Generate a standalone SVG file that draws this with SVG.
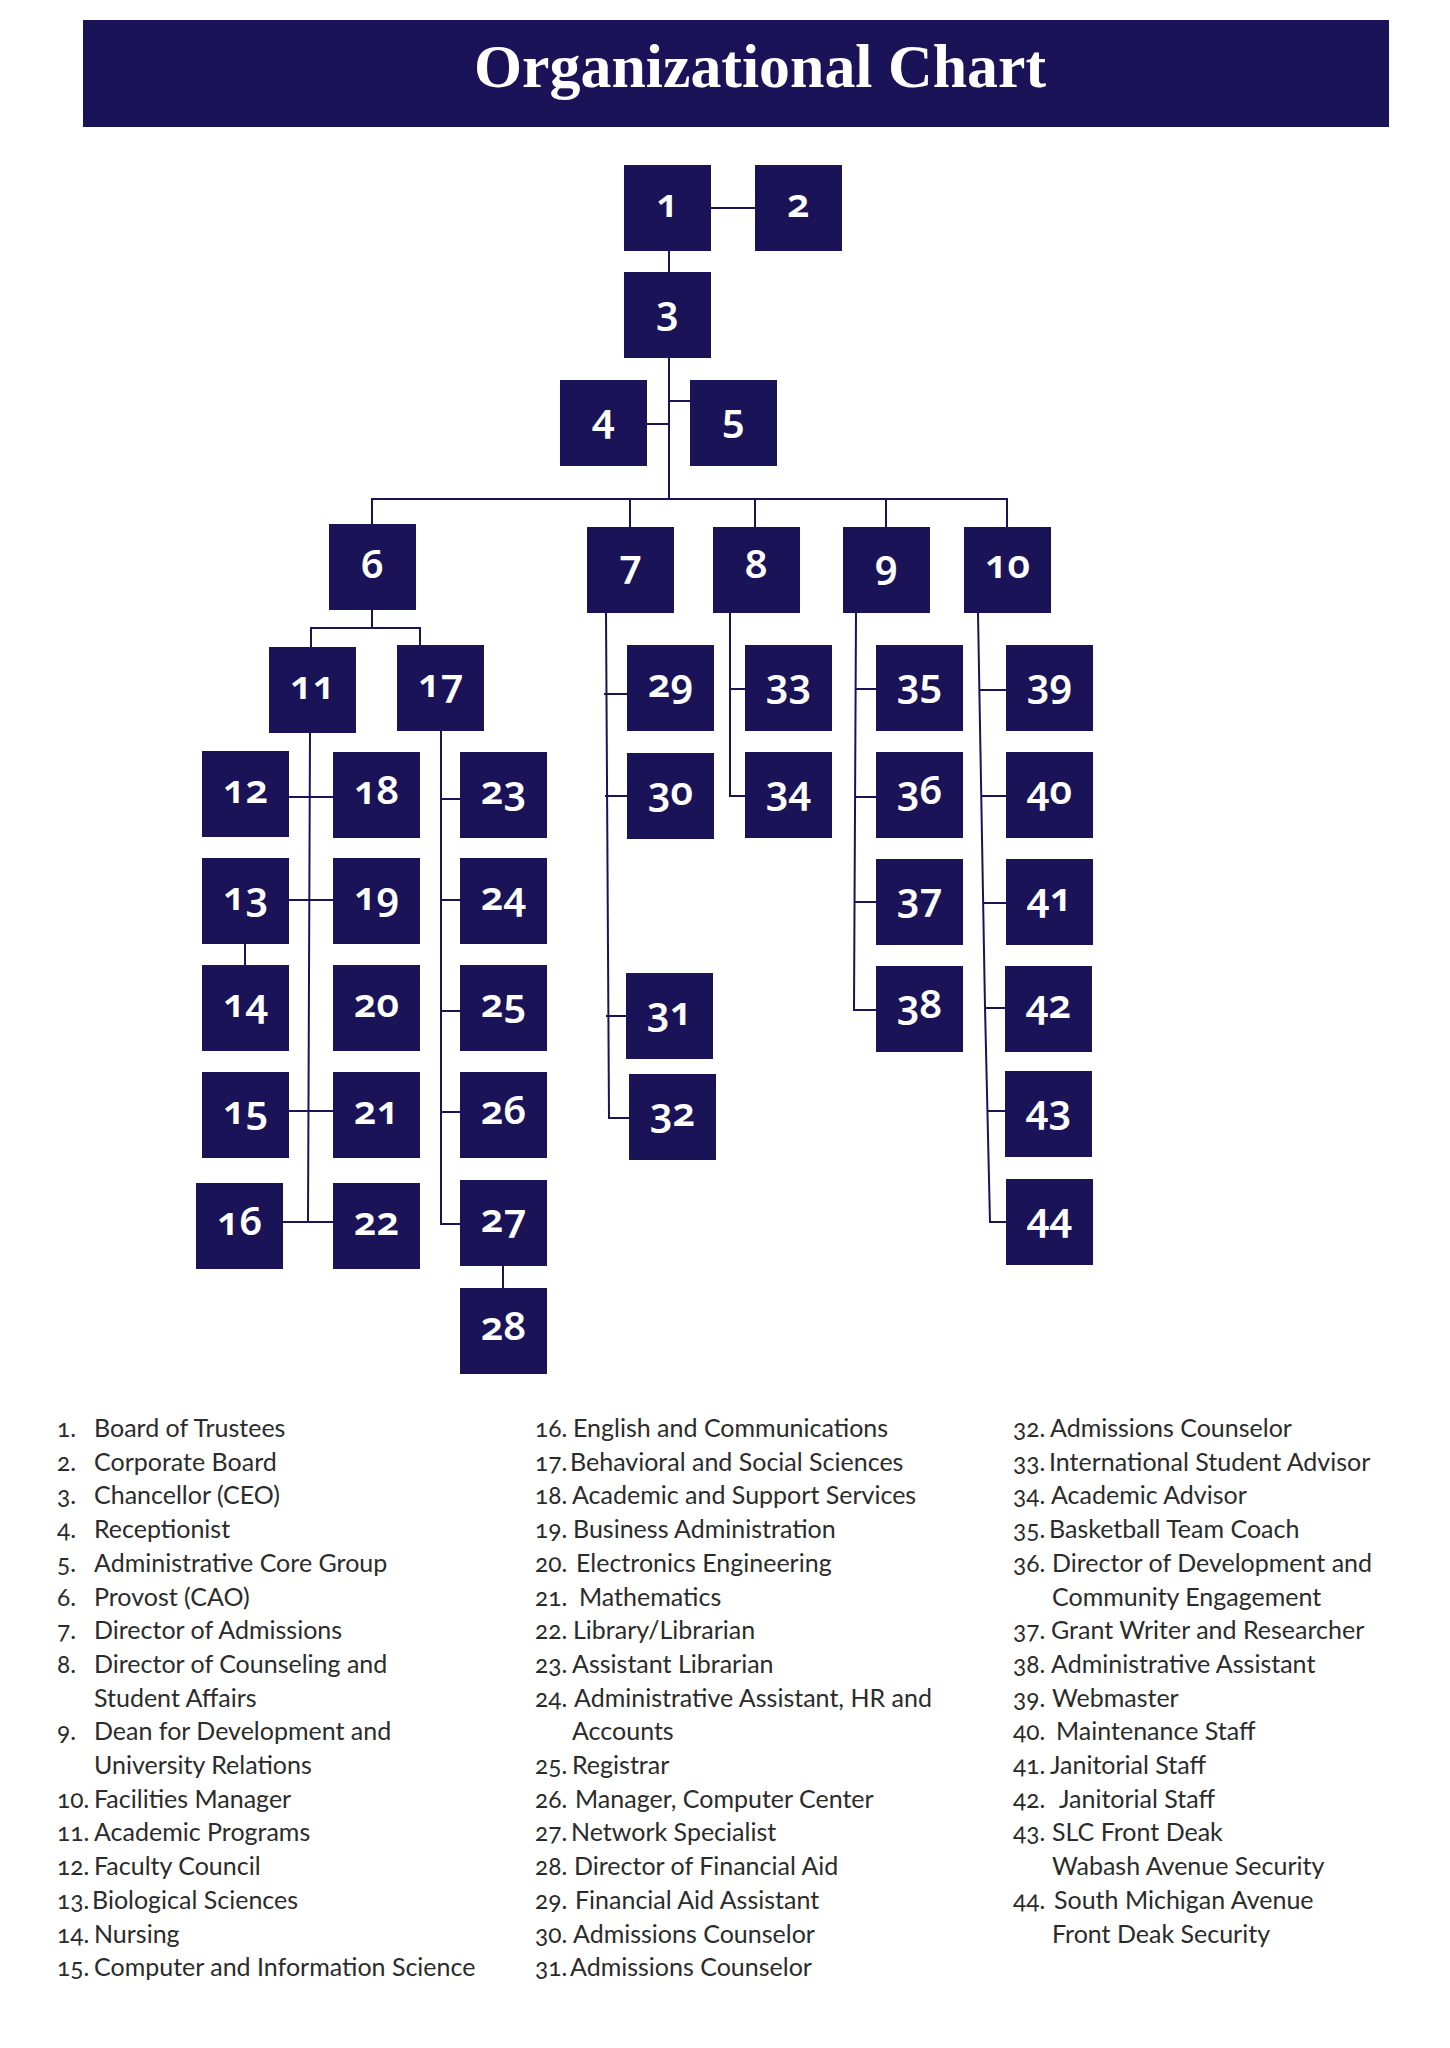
<svg xmlns="http://www.w3.org/2000/svg" width="1450" height="2048" viewBox="0 0 1450 2048">
<style>
.bx{fill:#1b1358;}
.num{font-family:"Noto Sans",Lato,"Open Sans",sans-serif;font-weight:600;font-size:40px;fill:#ffffff;text-anchor:middle;font-variant-numeric:oldstyle-nums;font-feature-settings:"onum" 1;}
.ln{fill:none;stroke:#1b1358;stroke-width:2;}
.lg{font-family:Lato,"Open Sans","Noto Sans",sans-serif;font-size:25px;fill:#2b2b2b;font-variant-numeric:oldstyle-nums;font-feature-settings:"onum" 1;}
.ln2{font-family:Lato,"Open Sans","Noto Sans",sans-serif;font-size:24.5px;fill:#2b2b2b;font-variant-numeric:oldstyle-nums;font-feature-settings:"onum" 1;}
.title{font-family:"Liberation Serif","DejaVu Serif",serif;font-weight:bold;font-size:62px;fill:#ffffff;}
</style>
<rect width="1450" height="2048" fill="#ffffff"/>
<g id="title">
<rect x="83" y="20" width="1306" height="107" class="bx"/>
<text x="474" y="87" class="title" textLength="572" lengthAdjust="spacingAndGlyphs">Organizational Chart</text>
</g>
<g id="connectors">
<path class="ln" d="M711,208 H755"/>
<path class="ln" d="M669,251 V499"/>
<path class="ln" d="M647,424 H669 M669,401 H690"/>
<path class="ln" d="M372,527 V499 H1007 V527 M630,499 V527 M755,499 V527 M886,499 V527"/>
<path class="ln" d="M372,610 V628 M311,647 V628 H420 V645"/>
<path class="ln" d="M310,733 L308,1222 M289,797 H333 M289,900 H333 M289,1111 H333 M283,1222 H333 M245,944 V965"/>
<path class="ln" d="M441,731 V1224 H460 M441,799 H460 M441,900 H460 M441,1011 H460 M441,1112 H460 M503,1266 V1288"/>
<path class="ln" d="M606,613 L609,1118 H629 M604,694 H627 M605,796 H627 M606,1016 H626"/>
<path class="ln" d="M730,613 V796 H745 M730,689 H745"/>
<path class="ln" d="M856,613 L854,1010 H876 M855,689 H876 M855,797 H876 M854,902 H876"/>
<path class="ln" d="M978,613 L985,1007 L990,1222 H1006 M980,690 H1006 M982,796 H1006 M983,903 H1006 M985,1008 H1005 M988,1111 H1005"/>
</g>
<g id="n1"><rect class="bx" x="624" y="165" width="87" height="86"/><text class="num" x="667.5" y="217">1</text></g>
<g id="n2"><rect class="bx" x="755" y="165" width="87" height="86"/><text class="num" x="798.5" y="217">2</text></g>
<g id="n3"><rect class="bx" x="624" y="272" width="87" height="86"/><text class="num" x="667.5" y="324">3</text></g>
<g id="n4"><rect class="bx" x="560" y="380" width="87" height="86"/><text class="num" x="603.5" y="432">4</text></g>
<g id="n5"><rect class="bx" x="690" y="380" width="87" height="86"/><text class="num" x="733.5" y="432">5</text></g>
<g id="n6"><rect class="bx" x="329" y="524" width="87" height="86"/><text class="num" x="372.5" y="578">6</text></g>
<g id="n7"><rect class="bx" x="587" y="527" width="87" height="86"/><text class="num" x="630.5" y="578">7</text></g>
<g id="n8"><rect class="bx" x="713" y="527" width="87" height="86"/><text class="num" x="756.5" y="578">8</text></g>
<g id="n9"><rect class="bx" x="843" y="527" width="87" height="86"/><text class="num" x="886.5" y="578">9</text></g>
<g id="n10"><rect class="bx" x="964" y="527" width="87" height="86"/><text class="num" x="1007.5" y="578">10</text></g>
<g id="n11"><rect class="bx" x="269" y="647" width="87" height="86"/><text class="num" x="312.5" y="699">11</text></g>
<g id="n17"><rect class="bx" x="397" y="645" width="87" height="86"/><text class="num" x="440.5" y="697">17</text></g>
<g id="n12"><rect class="bx" x="202" y="751" width="87" height="86"/><text class="num" x="245.5" y="803">12</text></g>
<g id="n13"><rect class="bx" x="202" y="858" width="87" height="86"/><text class="num" x="245.5" y="910">13</text></g>
<g id="n14"><rect class="bx" x="202" y="965" width="87" height="86"/><text class="num" x="245.5" y="1017">14</text></g>
<g id="n15"><rect class="bx" x="202" y="1072" width="87" height="86"/><text class="num" x="245.5" y="1124">15</text></g>
<g id="n16"><rect class="bx" x="196" y="1183" width="87" height="86"/><text class="num" x="239.5" y="1235">16</text></g>
<g id="n18"><rect class="bx" x="333" y="752" width="87" height="86"/><text class="num" x="376.5" y="804">18</text></g>
<g id="n19"><rect class="bx" x="333" y="858" width="87" height="86"/><text class="num" x="376.5" y="910">19</text></g>
<g id="n20"><rect class="bx" x="333" y="965" width="87" height="86"/><text class="num" x="376.5" y="1017">20</text></g>
<g id="n21"><rect class="bx" x="333" y="1072" width="87" height="86"/><text class="num" x="376.5" y="1124">21</text></g>
<g id="n22"><rect class="bx" x="333" y="1183" width="87" height="86"/><text class="num" x="376.5" y="1235">22</text></g>
<g id="n23"><rect class="bx" x="460" y="752" width="87" height="86"/><text class="num" x="503.5" y="804">23</text></g>
<g id="n24"><rect class="bx" x="460" y="858" width="87" height="86"/><text class="num" x="503.5" y="910">24</text></g>
<g id="n25"><rect class="bx" x="460" y="965" width="87" height="86"/><text class="num" x="503.5" y="1017">25</text></g>
<g id="n26"><rect class="bx" x="460" y="1072" width="87" height="86"/><text class="num" x="503.5" y="1124">26</text></g>
<g id="n27"><rect class="bx" x="460" y="1180" width="87" height="86"/><text class="num" x="503.5" y="1232">27</text></g>
<g id="n28"><rect class="bx" x="460" y="1288" width="87" height="86"/><text class="num" x="503.5" y="1340">28</text></g>
<g id="n29"><rect class="bx" x="627" y="645" width="87" height="86"/><text class="num" x="670.5" y="697">29</text></g>
<g id="n30"><rect class="bx" x="627" y="753" width="87" height="86"/><text class="num" x="670.5" y="805">30</text></g>
<g id="n31"><rect class="bx" x="626" y="973" width="87" height="86"/><text class="num" x="669.5" y="1025">31</text></g>
<g id="n32"><rect class="bx" x="629" y="1074" width="87" height="86"/><text class="num" x="672.5" y="1126">32</text></g>
<g id="n33"><rect class="bx" x="745" y="645" width="87" height="86"/><text class="num" x="788.5" y="697">33</text></g>
<g id="n34"><rect class="bx" x="745" y="752" width="87" height="86"/><text class="num" x="788.5" y="804">34</text></g>
<g id="n35"><rect class="bx" x="876" y="645" width="87" height="86"/><text class="num" x="919.5" y="697">35</text></g>
<g id="n36"><rect class="bx" x="876" y="752" width="87" height="86"/><text class="num" x="919.5" y="804">36</text></g>
<g id="n37"><rect class="bx" x="876" y="859" width="87" height="86"/><text class="num" x="919.5" y="911">37</text></g>
<g id="n38"><rect class="bx" x="876" y="966" width="87" height="86"/><text class="num" x="919.5" y="1018">38</text></g>
<g id="n39"><rect class="bx" x="1006" y="645" width="87" height="86"/><text class="num" x="1049.5" y="697">39</text></g>
<g id="n40"><rect class="bx" x="1006" y="752" width="87" height="86"/><text class="num" x="1049.5" y="804">40</text></g>
<g id="n41"><rect class="bx" x="1006" y="859" width="87" height="86"/><text class="num" x="1049.5" y="911">41</text></g>
<g id="n42"><rect class="bx" x="1005" y="966" width="87" height="86"/><text class="num" x="1048.5" y="1018">42</text></g>
<g id="n43"><rect class="bx" x="1005" y="1071" width="87" height="86"/><text class="num" x="1048.5" y="1123">43</text></g>
<g id="n44"><rect class="bx" x="1006" y="1179" width="87" height="86"/><text class="num" x="1049.5" y="1231">44</text></g>
<g id="legend">
<text class="ln2" x="57" y="1437">1.</text><text class="lg" x="94" y="1437">Board of Trustees</text>
<text class="ln2" x="57" y="1470.7">2.</text><text class="lg" x="94" y="1470.7">Corporate Board</text>
<text class="ln2" x="57" y="1504.4">3.</text><text class="lg" x="94" y="1504.4">Chancellor (CEO)</text>
<text class="ln2" x="57" y="1538.1">4.</text><text class="lg" x="94" y="1538.1">Receptionist</text>
<text class="ln2" x="57" y="1571.8">5.</text><text class="lg" x="94" y="1571.8">Administrative Core Group</text>
<text class="ln2" x="57" y="1605.5">6.</text><text class="lg" x="94" y="1605.5">Provost (CAO)</text>
<text class="ln2" x="57" y="1639.2">7.</text><text class="lg" x="94" y="1639.2">Director of Admissions</text>
<text class="ln2" x="57" y="1672.9">8.</text><text class="lg" x="94" y="1672.9">Director of Counseling and</text>
<text class="lg" x="94" y="1706.6">Student Affairs</text>
<text class="ln2" x="57" y="1740.3">9.</text><text class="lg" x="94" y="1740.3">Dean for Development and</text>
<text class="lg" x="94" y="1774">University Relations</text>
<text class="ln2" x="57" y="1807.7">10.</text><text class="lg" x="94" y="1807.7">Facilities Manager</text>
<text class="ln2" x="57" y="1841.4">11.</text><text class="lg" x="94" y="1841.4">Academic Programs</text>
<text class="ln2" x="57" y="1875.1">12.</text><text class="lg" x="94" y="1875.1">Faculty Council</text>
<text class="ln2" x="57" y="1908.8">13.</text><text class="lg" x="92" y="1908.8">Biological Sciences</text>
<text class="ln2" x="57" y="1942.5">14.</text><text class="lg" x="94" y="1942.5">Nursing</text>
<text class="ln2" x="57" y="1976.2">15.</text><text class="lg" x="94" y="1976.2">Computer and Information Science</text>

<text class="ln2" x="535" y="1437">16.</text><text class="lg" x="573" y="1437">English and Communications</text>
<text class="ln2" x="535" y="1470.7">17.</text><text class="lg" x="570" y="1470.7">Behavioral and Social Sciences</text>
<text class="ln2" x="535" y="1504.4">18.</text><text class="lg" x="572" y="1504.4">Academic and Support Services</text>
<text class="ln2" x="535" y="1538.1">19.</text><text class="lg" x="573" y="1538.1">Business Administration</text>
<text class="ln2" x="535" y="1571.8">20.</text><text class="lg" x="576" y="1571.8">Electronics Engineering</text>
<text class="ln2" x="535" y="1605.5">21.</text><text class="lg" x="579" y="1605.5">Mathematics</text>
<text class="ln2" x="535" y="1639.2">22.</text><text class="lg" x="573" y="1639.2">Library/Librarian</text>
<text class="ln2" x="535" y="1672.9">23.</text><text class="lg" x="572" y="1672.9">Assistant Librarian</text>
<text class="ln2" x="535" y="1706.6">24.</text><text class="lg" x="574" y="1706.6">Administrative Assistant, HR and</text>
<text class="lg" x="572" y="1740.3">Accounts</text>
<text class="ln2" x="535" y="1774">25.</text><text class="lg" x="572" y="1774">Registrar</text>
<text class="ln2" x="535" y="1807.7">26.</text><text class="lg" x="575" y="1807.7">Manager, Computer Center</text>
<text class="ln2" x="535" y="1841.4">27.</text><text class="lg" x="571" y="1841.4">Network Specialist</text>
<text class="ln2" x="535" y="1875.1">28.</text><text class="lg" x="574" y="1875.1">Director of Financial Aid</text>
<text class="ln2" x="535" y="1908.8">29.</text><text class="lg" x="575" y="1908.8">Financial Aid Assistant</text>
<text class="ln2" x="535" y="1942.5">30.</text><text class="lg" x="573" y="1942.5">Admissions Counselor</text>
<text class="ln2" x="535" y="1976.2">31.</text><text class="lg" x="570" y="1976.2">Admissions Counselor</text>

<text class="ln2" x="1013" y="1437">32.</text><text class="lg" x="1050" y="1437">Admissions Counselor</text>
<text class="ln2" x="1013" y="1470.7">33.</text><text class="lg" x="1049" y="1470.7">International Student Advisor</text>
<text class="ln2" x="1013" y="1504.4">34.</text><text class="lg" x="1051" y="1504.4">Academic Advisor</text>
<text class="ln2" x="1013" y="1538.1">35.</text><text class="lg" x="1049" y="1538.1">Basketball Team Coach</text>
<text class="ln2" x="1013" y="1571.8">36.</text><text class="lg" x="1052" y="1571.8">Director of Development and</text>
<text class="lg" x="1052" y="1605.5">Community Engagement</text>
<text class="ln2" x="1013" y="1639.2">37.</text><text class="lg" x="1051" y="1639.2">Grant Writer and Researcher</text>
<text class="ln2" x="1013" y="1672.9">38.</text><text class="lg" x="1051" y="1672.9">Administrative Assistant</text>
<text class="ln2" x="1013" y="1706.6">39.</text><text class="lg" x="1052" y="1706.6">Webmaster</text>
<text class="ln2" x="1013" y="1740.3">40.</text><text class="lg" x="1056" y="1740.3">Maintenance Staff</text>
<text class="ln2" x="1013" y="1774">41.</text><text class="lg" x="1050" y="1774">Janitorial Staff</text>
<text class="ln2" x="1013" y="1807.7">42.</text><text class="lg" x="1059" y="1807.7">Janitorial Staff</text>
<text class="ln2" x="1013" y="1841.4">43.</text><text class="lg" x="1052" y="1841.4">SLC Front Deak</text>
<text class="lg" x="1052" y="1875.1">Wabash Avenue Security</text>
<text class="ln2" x="1013" y="1908.8">44.</text><text class="lg" x="1054" y="1908.8">South Michigan Avenue</text>
<text class="lg" x="1052" y="1942.5">Front Deak Security</text>
</g>
</svg>
